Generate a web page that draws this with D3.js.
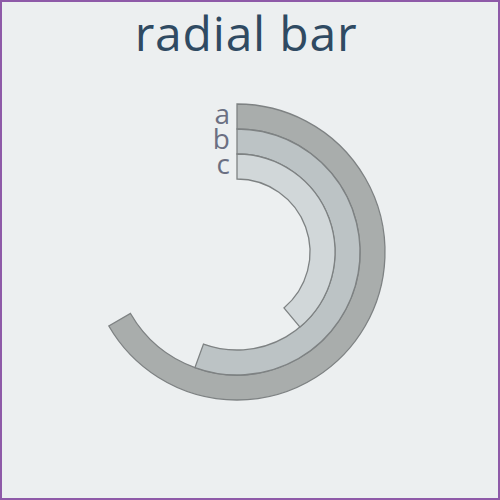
<!DOCTYPE html>
<html><head><meta charset="utf-8">
<script src="https://cdn.jsdelivr.net/npm/d3@7"></script>
<style>
html,body{margin:0;padding:0;background:#eceff0;}
svg{display:block;}
</style></head>
<body>
<svg id="chart" width="500" height="500"></svg>
<script>
const categories = ["a", "b", "c"];
const values = [240, 200, 140];
const colors = ["#a9adac", "#bcc3c5", "#d1d7d9"];
const title = "radial bar";

const svg = d3.select("#chart");
svg.append("rect").attr("x",1).attr("y",1).attr("width",498).attr("height",498)
  .attr("fill","#eceff0").attr("stroke","#8e5aa8").attr("stroke-width",2);

svg.append("text").attr("x",246).attr("y",51).attr("text-anchor","middle")
  .attr("font-family","'Open Sans', sans-serif").attr("font-size",48)
  .attr("letter-spacing",0.8)
  .attr("fill","#2f4a62").text(title);

const cx = 237, cy = 252;
const angle = d3.scaleLinear().domain([0,360]).range([0, 2*Math.PI]);
const radius = d3.scaleBand().domain(categories).range([148, 73]).paddingInner(0);

const g = svg.append("g").attr("transform",`translate(${cx},${cy})`);
const arc = d3.arc()
  .innerRadius((d,i)=>radius(categories[i]))
  .outerRadius((d,i)=>radius(categories[i]) + radius.bandwidth())
  .startAngle(0)
  .endAngle(d=>angle(d));

g.selectAll("path").data(values).join("path")
  .attr("d",(d,i)=>arc(d,i))
  .attr("fill",(d,i)=>colors[i])
  .attr("stroke","#7e8283").attr("stroke-width",1.3);

g.selectAll("text.lbl").data(categories).join("text").attr("class","lbl")
  .attr("x",-7)
  .attr("y",d=>-(radius(d) + radius.bandwidth()/2))
  .attr("dy","0.28em")
  .attr("text-anchor","end")
  .attr("font-family","'Open Sans', sans-serif").attr("font-size",28)
  .attr("fill","#6b6f82").text(d=>d);
</script>
</body></html>
